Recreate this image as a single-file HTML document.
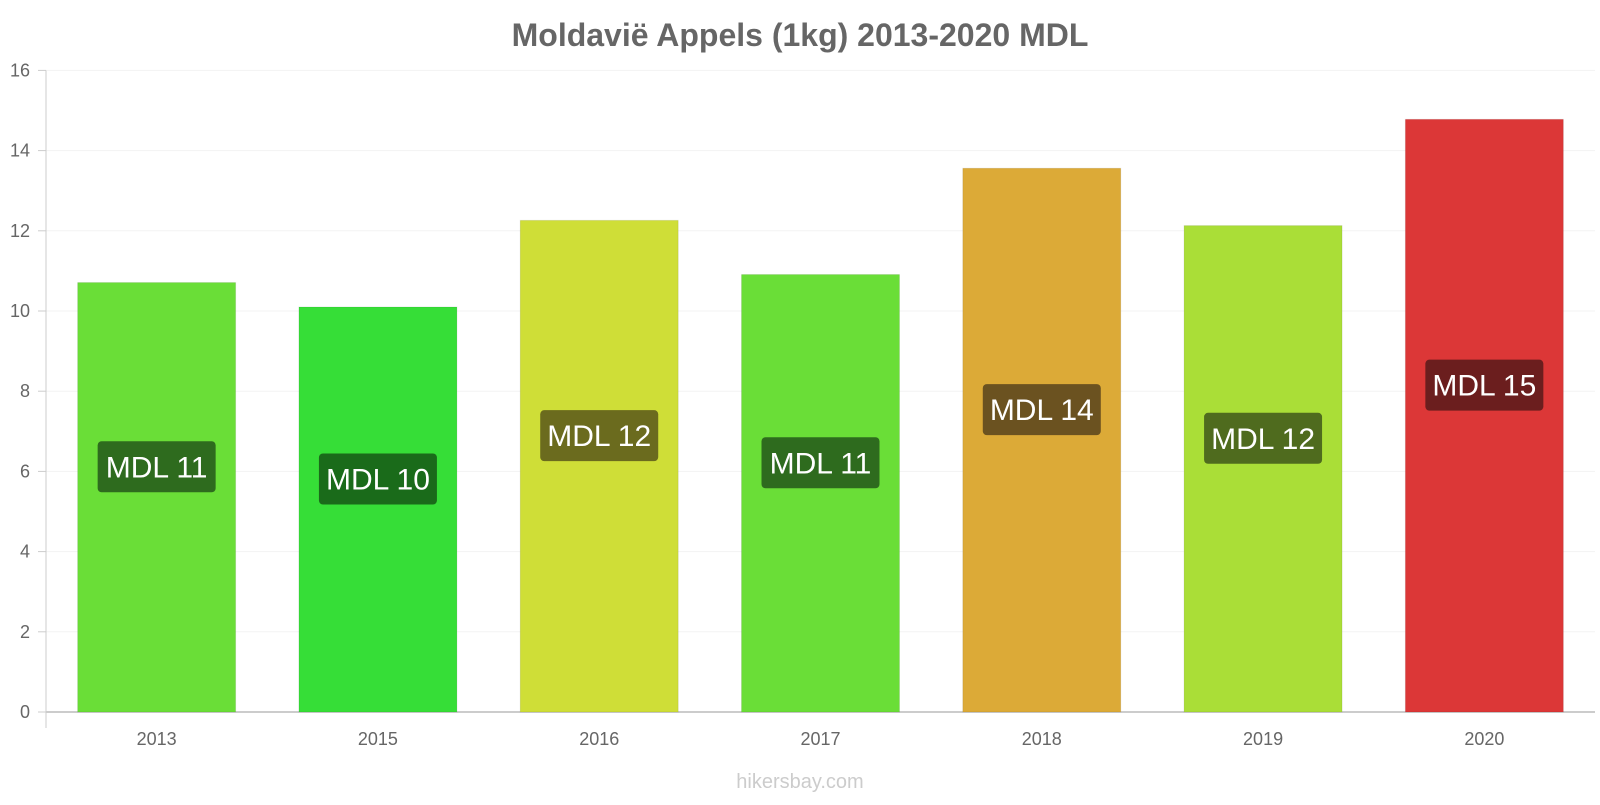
<!DOCTYPE html>
<html><head><meta charset="utf-8"><style>
body{margin:0;background:#fff;}
svg text{font-family:"Liberation Sans",sans-serif;}
</style></head><body>
<svg id="c" width="1600" height="800" xmlns="http://www.w3.org/2000/svg">
<text x="800" y="46" text-anchor="middle" font-size="32" font-weight="bold" fill="#666">Moldavië Appels (1kg) 2013-2020 MDL</text>
<g id="grid"></g><g id="bars"></g>
<text x="800" y="788" text-anchor="middle" font-size="20" fill="#ccc">hikersbay.com</text>
</svg>
<script>
const categories=["2013","2015","2016","2017","2018","2019","2020"];
const values=[10.71,10.1,12.26,10.91,13.56,12.13,14.78];
const valueLabels=["MDL 11","MDL 10","MDL 12","MDL 11","MDL 14","MDL 12","MDL 15"];
const barColors=["#6ade37","#36de37","#cfde37","#6ade37","#dcaa37","#aade37","#dc3737"];
const labelColors=["#2e6b1e","#1a6b1a","#6b6b1e","#2e6b1e","#6b5220","#4f6b1e","#6b1e1e"];
const yTicks=[0,2,4,6,8,10,12,14,16];
const NS="http://www.w3.org/2000/svg";
const x0=46,x1=1595,yB=712,yT=70.4,yMax=16;
const y=v=>yB-(v/yMax)*(yB-yT);
const step=(x1-x0)/categories.length;
const xc=i=>x0+step*(i+0.5);
function mk(t,a,p){const e=document.createElementNS(NS,t);for(const k in a)e.setAttribute(k,a[k]);p.appendChild(e);return e;}
const g=document.getElementById('grid'),b=document.getElementById('bars');
yTicks.forEach(v=>{
 const l=mk('line',{x1:x0,x2:x1,y1:y(v),y2:y(v),stroke:v===0?'#ccc':'#f3f3f3','stroke-width':v===0?2:1},g);
 
 
 const tk=mk('line',{x1:x0-8,x2:x0,y1:y(v),y2:y(v),stroke:'#ccc'},g);
 
 
 const t=mk('text',{x:x0-16,y:y(v)+6,'text-anchor':'end','font-size':18,fill:'#666'},g);
 t.textContent=v;
 
 
});
const ax=mk('line',{x1:x0,x2:x0,y1:yT,y2:yB+16,stroke:'#ccc'},g);


categories.forEach((c,i)=>{
 const w=158,cx=xc(i);
 const r=mk('rect',{x:cx-w/2,y:y(values[i]),width:w,height:yB-y(values[i]),fill:barColors[i],stroke:'rgba(0,0,0,0.08)'},b);
 
 
 const ly=(y(values[i])+yB)/2-31;
 const lb=mk('rect',{x:cx-59,y:ly-25,width:118,height:51,rx:4,fill:labelColors[i]},b);
 
 
 const lt=mk('text',{x:cx,y:ly+11,'text-anchor':'middle','font-size':30,fill:'#fff'},b);
 lt.textContent=valueLabels[i];
 
 
 const xt=mk('text',{x:cx,y:745,'text-anchor':'middle','font-size':18,fill:'#666'},b);
 xt.textContent=c;
 
 
});
</script>
</body></html>
